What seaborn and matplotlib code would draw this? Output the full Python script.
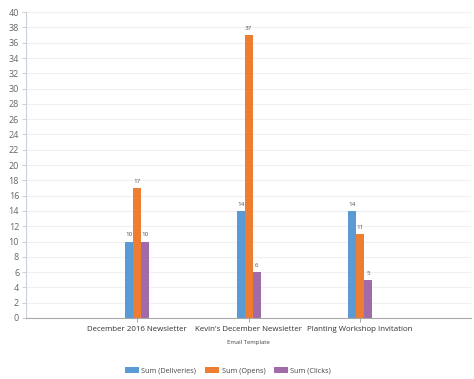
"""Email template engagement bar chart."""

import matplotlib.pyplot as plt
import pandas as pd
import seaborn as sns

templates = [
    "December 2016 Newsletter",
    "Kevin's December Newsletter",
    "Planting Workshop Invitation",
]
deliveries = [10, 14, 14]
opens = [17, 37, 11]
clicks = [10, 6, 5]

series_names = ["Sum (Deliveries)", "Sum (Opens)", "Sum (Clicks)"]
palette = ["#5b9bd5", "#ed7d31", "#a16aa8"]

df = pd.DataFrame({
    "template": templates * 3,
    "series": [s for s in series_names for _ in templates],
    "value": deliveries + opens + clicks,
})

sns.set_theme(style="white")
plt.rcParams["font.family"] = ["Open Sans", "DejaVu Sans"]

fig = plt.figure(figsize=(4.74, 3.79), dpi=100)
ax = fig.add_axes([0.055, 0.161, 0.939, 0.807])

sns.barplot(
    data=df, x="template", y="value", hue="series", order=templates,
    hue_order=series_names, palette=palette, width=0.215, gap=0,
    saturation=1, linewidth=0, ax=ax, legend=True,
)

for cont in ax.containers:
    ax.bar_label(cont, fmt="%d", padding=3, fontsize=4.5, color="#555555")

ax.set_xlim(-1, 3)
ax.set_ylim(0, 40)
ax.set_yticks(range(0, 41, 2))
ax.yaxis.grid(True, color="#f0f0f0", linewidth=0.8)
ax.set_axisbelow(True)

ax.set_xlabel("Email Template", fontsize=4.3, color="#444444", labelpad=5)
ax.set_ylabel("")
ax.tick_params(axis="y", labelsize=6.5, colors="#666666", length=3, width=0.6,
               left=True, pad=2)
ax.tick_params(axis="x", labelsize=5.7, colors="#333333", length=3, width=0.6,
               bottom=True, pad=3)
ax.tick_params(axis="y", color="#c0c8d4")
ax.tick_params(axis="x", color="#999999")

for side in ["top", "right"]:
    ax.spines[side].set_visible(False)
ax.spines["left"].set_color("#c8d0dc")
ax.spines["left"].set_linewidth(0.8)
ax.spines["bottom"].set_color("#a8a8a8")
ax.spines["bottom"].set_linewidth(0.8)

handles, labels = ax.get_legend_handles_labels()
ax.get_legend().remove()
fig.legend(
    handles, labels, loc="center", bbox_to_anchor=(0.481, 0.022), ncol=3,
    frameon=False, fontsize=5.2, handlelength=1.95, handleheight=1.0,
    columnspacing=1.2, handletextpad=0.35, labelcolor="#444444",
)

fig.savefig("out.png", dpi=100)
plt.close(fig)
